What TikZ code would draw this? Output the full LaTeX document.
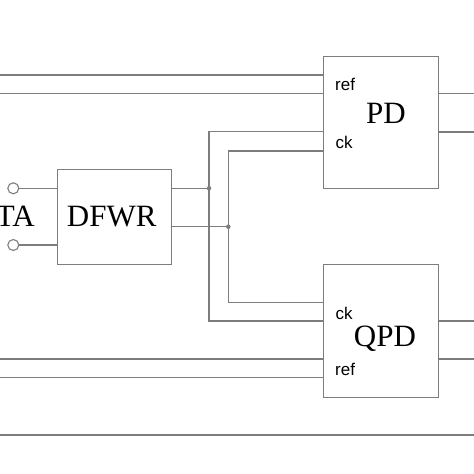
\documentclass[tikz,border=0pt]{standalone}
\usepackage{fontspec}
\setmainfont{Liberation Serif}
\setsansfont{Liberation Sans}
\definecolor{wire}{RGB}{125,125,125}
\begin{document}
\begin{tikzpicture}[x=1pt,y=-1pt,
  wirestyle/.style={draw=wire,line width=1.1pt},
  blockbox/.style={draw=wire,line width=1.1pt,rectangle,inner sep=0pt,anchor=north west},
  bigtext/.style={inner sep=0pt,anchor=base,font=\fontsize{31}{31}\selectfont},
  porttext/.style={inner sep=0pt,anchor=base west,font=\sffamily\fontsize{17}{17}\selectfont},
  terminal/.style={draw=wire,line width=1.1pt,circle,minimum size=11pt,inner sep=0pt,fill=white},
  junction/.style={fill=wire,draw=wire,circle,minimum size=4pt,inner sep=0pt}]
\useasboundingbox (0,0) rectangle (474,474);
\clip (0,0) rectangle (474,474);
% blocks
\node[blockbox,minimum width=114.4pt,minimum height=132.3pt] (pd) at (323.3,56) {};
\node[blockbox,minimum width=114.4pt,minimum height=132.4pt] (qpd) at (323.3,264.3) {};
\node[blockbox,minimum width=114.3pt,minimum height=94.7pt] (dfwr) at (56.7,169.3) {};
% texts
\node[bigtext] (tpd) at (386,123.3) {PD};
\node[bigtext] (tqpd) at (385,346) {QPD};
\node[bigtext] (tdfwr) at (111.7,226.7) {DFWR};
\node[bigtext,anchor=base east] (tdata) at (35,226.7) {TA};
\node[porttext] (pdref) at (335,90.7) {ref};
\node[porttext] (pdck) at (335.5,148.3) {ck};
\node[porttext] (qpdck) at (335.5,319) {ck};
\node[porttext] (qpdref) at (335,375) {ref};
% coordinates
\coordinate (l1) at (0,75);
\coordinate (l2) at (0,93.3);
\coordinate (l3) at (0,359);
\coordinate (l4) at (0,377.7);
\coordinate (l5) at (0,435);
\coordinate (r5) at (474,435);
\coordinate (r1) at (474,93.3);
\coordinate (r2) at (474,132);
\coordinate (r3) at (474,321);
\coordinate (r4) at (474,359);
\coordinate (c1) at (209,131.7);
\coordinate (c2) at (209,321);
\coordinate (d1) at (228.3,151);
\coordinate (d2) at (228.3,302.3);
\node[junction] (j1) at (209,188.3) {};
\node[junction] (j2) at (228.3,226.7) {};
\node[terminal] (in1) at (13.3,188.3) {};
\node[terminal] (in2) at (13.3,245) {};
% wires
\draw[wirestyle] (l1) -- (l1 -| pd.west);
\draw[wirestyle] (l2) -- (l2 -| pd.west);
\draw[wirestyle] (l3) -- (l3 -| qpd.west);
\draw[wirestyle] (l4) -- (l4 -| qpd.west);
\draw[wirestyle] (l5) -- (r5);
\draw[wirestyle] (r1 -| pd.east) -- (r1);
\draw[wirestyle] (r2 -| pd.east) -- (r2);
\draw[wirestyle] (r3 -| qpd.east) -- (r3);
\draw[wirestyle] (r4 -| qpd.east) -- (r4);
\draw[wirestyle] (c1 -| pd.west) -- (c1) -- (c2) -- (c2 -| qpd.west);
\draw[wirestyle] (d1 -| pd.west) -- (d1) -- (d2) -- (d2 -| qpd.west);
\draw[wirestyle] (j1 -| dfwr.east) -- (j1);
\draw[wirestyle] (j2 -| dfwr.east) -- (j2);
\draw[wirestyle] (in1) -- (in1 -| dfwr.west);
\draw[wirestyle] (in2) -- (in2 -| dfwr.west);
\end{tikzpicture}
\end{document}
